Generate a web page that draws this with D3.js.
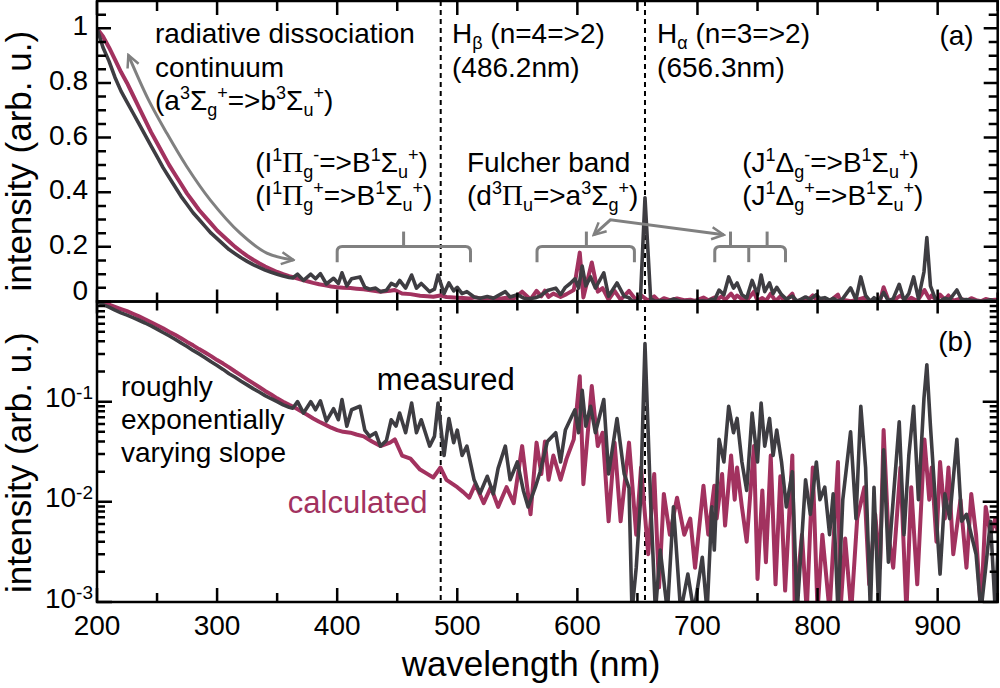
<!DOCTYPE html>
<html>
<head>
<meta charset="utf-8">
<script src="https://cdn.jsdelivr.net/npm/d3@7"></script>
<style>
  body { margin: 0; background: #fff; }
  svg { display: block; font-family: "Liberation Sans", Arial, sans-serif; }
  text { white-space: pre; }
</style>
</head>
<body>
<div id="chart"></div>
<script>
// measured spectrum (wavelength nm, intensity normalised at 200 nm)
const measuredWl = [200,205,210,215,220,225,230,235,240,245,250,255,260,265,270,275,280,285,290,295,300,305,310,315,320,325,330,335,340,345,350,355,360,
  363,367,372,378,382,386,391,397,401,404,408,412,419,423,427,432,436,441,445,449,452,457,462,466,470,477,481,484,489,493,497,500,504,508,
  514,519,525,530,534,540,544,550,555,559,565,569,575,582,586,590,594,598,601,604,607,611,615,622,626,633,639,643,645.5,649,652.5,656.3,661,
  665,669,675,680,686,692,697,704,708,712,714,718,722,726,730,733,737,741,745.5,750,753,756,760,763,766,770,774,779,783,790,794,799,802,806,
  810,813,817,821,827.5,832,836,840,844,847,851,855,859,863,868,872,876,880,884,888.6,891,894,898,902,906,910,916,920,924,928,932,936,940,944,948,950];
const measuredVal = [1.00,.93,.88,.82,.77,.73,.69,.65,.61,.57,.53,.49,.455,.42,.385,.355,.325,.30,.275,.25,.23,.21,.19,.175,.16,.147,.135,.125,.115,.107,.10,.093,.088,
  .086,.100,.077,.100,.083,.102,.064,.085,.066,.105,.057,.083,.090,.052,.045,.049,.036,.041,.066,.057,.077,.049,.097,.049,.066,.036,.045,.097,.029,.068,.039,.052,.029,.036,
  .0166,.0122,.018,.012,.0216,.036,.0166,.025,.013,.0089,.014,.020,.040,.049,.025,.052,.066,.083,.049,.130,.057,.090,.049,.105,.019,.068,.019,.0138,.0008,.0022,.010,.38,.010,
  .0008,.0033,.0008,.0089,.0008,.0019,.0008,.0028,.0008,.0089,.0033,.042,.025,.090,.049,.068,.025,.013,.077,.025,.097,.036,.068,.029,.052,.025,.0089,.020,.0008,.0166,.0075,.025,.0105,.014,
  .0047,.012,.0008,.0105,.050,.0068,.090,.022,.0008,.014,.0008,.033,.0025,.0105,.063,.0047,.029,.090,.0105,.108,.234,.057,.0105,.0019,.012,.0068,.042,.0064,.0075,.0047,.003,.0008,.0022,.0064,.0008,.003];

// calculated spectrum
const calculatedWl = [200,205,210,215,220,225,230,235,240,245,250,255,260,265,270,275,280,285,290,295,300,305,310,315,320,325,330,335,340,345,350,355,360,
  365,370,375,380,385,390,395,400,405,411,416,422,429,436,444,448,454,461,469,475,480,486,491,500,505,510,515,522,528,534,541,547,554,561,566,570,573,576,580,586,591,597,
  602,605,612,617,621,626,631,636,643,649,653,659,664,668,672,677,683,689,694,698,705,709,714,716,720.5,723,728,731,733,737,741,747,750,754,757,761,765,769,773,779,781,787,
  791,796,800,804,810,817,819,823,828,833,839,843,848,852,855,859,863,869,874,878,883,889,893,895,899,902,906,909,913,919,924,928,932,936,940,944,948,950];
const calculatedVal = [1.00,.97,.93,.885,.84,.80,.755,.71,.665,.62,.58,.54,.50,.465,.43,.395,.365,.335,.31,.285,.26,.24,.22,.20,.183,.167,.153,.14,.128,.118,.108,.10,.093,
  .087,.080,.074,.068,.063,.059,.055,.052,.050,.049,.047,.045,.040,.036,.039,.042,.029,.027,.021,.019,.0175,.022,.0166,.014,.0125,.011,.015,.0097,.014,.0089,.014,.0097,.036,.0075,.039,.019,.040,.0166,.029,.0166,.027,.042,
  .179,.015,.143,.036,.049,.0064,.039,.0064,.039,.0047,.022,.003,.019,.0014,.012,.0047,.011,.0047,.0068,.0022,.0145,.0047,.0145,.0068,.019,.0058,.029,.0105,.022,.0089,.004,.036,.0017,.013,.0025,.029,.0015,.018,.0013,.029,.0008,.0047,
  .0008,.022,.0008,.0047,.0008,.025,.0008,.0043,.0008,.0068,.014,.0015,.0075,.0022,.052,.0047,.0022,.022,.0008,.014,.0015,.042,.0105,.022,.004,.025,.0068,.022,.003,.0105,.0022,.012,.0047,.0008,.0089,.0047,.0068,.005];

const xMajor = [200,300,400,500,600,700,800,900];
const xMinor = [250,350,450,550,650,750,850,950];
const linMajor = [0,0.2,0.4,0.6,0.8,1];
const linLabels = ["0","0.2","0.4","0.6","0.8","1"];
const linMinor = [0.05,0.1,0.15,0.25,0.3,0.35,0.45,0.5,0.55,0.65,0.7,0.75,0.85,0.9,0.95,1.05];
const logMajor = [1e-3,1e-2,1e-1];
const logExp = ["-3","-2","-1"];
const logMinor = [2,3,4,5,6,7,8,9].flatMap(m => [m*1e-3, m*1e-2, m*1e-1]);
const hydrogenLines = [486.2, 656.3];

const W = 1000, H = 688;
const MEAS = "#3e3d42", CALC = "#a2325f", GRAY = "#808080";

const measured = measuredWl.map((w, i) => [w, measuredVal[i]]);
const calculated = calculatedWl.map((w, i) => [w, calculatedVal[i]]);

const svg = d3.select("#chart").append("svg").attr("width", W).attr("height", H);

const x = d3.scaleLinear().domain([200, 950]).range([97, 997.7]);
const yA = d3.scaleLinear().domain([0, 1.1]).range([301.5, 1]);
const yB = d3.scaleLog().domain([1e-3, 1]).range([602, 301.5]);
const L = x(200), R = x(950), TA = yA(1.1), MID = yA(0), BB = yB(1e-3);

const defs = svg.append("defs");
defs.append("clipPath").attr("id", "clipB").append("rect")
  .attr("x", L).attr("y", MID).attr("width", R - L).attr("height", BB - MID);
defs.append("clipPath").attr("id", "clipA").append("rect")
  .attr("x", L).attr("y", TA).attr("width", R - L).attr("height", MID - TA);
defs.append("marker").attr("id", "chev")
  .attr("viewBox", "-14 -8 16 16").attr("refX", 0).attr("refY", 0)
  .attr("markerWidth", 16).attr("markerHeight", 16)
  .attr("markerUnits", "userSpaceOnUse").attr("orient", "auto-start-reverse")
  .append("path").attr("d", "M-12,-6L0,0L-12,6")
  .attr("fill", "none").attr("stroke", GRAY).attr("stroke-width", 2.5);

// dashed H lines (both panels)
hydrogenLines.forEach(w => {
  svg.append("line")
    .attr("x1", x(w)).attr("x2", x(w)).attr("y1", TA).attr("y2", BB)
    .attr("stroke", "#000").attr("stroke-width", 2).attr("stroke-dasharray", "5,4");
});

// spectra
const lineA = d3.line().x(d => x(d[0])).y(d => yA(d[1]));
const lineB = d3.line().x(d => x(d[0])).y(d => yB(d[1]));
[[calculated, CALC, 4], [measured, MEAS, 3.6]].forEach(([data, col, sw]) => {
  svg.append("path").attr("clip-path", "url(#clipA)").attr("d", lineA(data))
    .attr("fill", "none").attr("stroke", col).attr("stroke-width", sw).attr("stroke-linejoin", "round");
  svg.append("path").attr("clip-path", "url(#clipB)").attr("d", lineB(data))
    .attr("fill", "none").attr("stroke", col).attr("stroke-width", sw).attr("stroke-linejoin", "round");
});

// tick labels
const gLab = svg.append("g").attr("font-size", 28).attr("fill", "#000");
linMajor.forEach((v, i) => {
  gLab.append("text").attr("x", L - 9).attr("y", yA(v)).attr("dy", v === 0 ? "-0.05em" : "0.25em")
    .attr("text-anchor", "end").text(linLabels[i]);
});
logMajor.forEach((v, i) => {
  const t = gLab.append("text").attr("x", L - 4).attr("y", yB(v)).attr("dy", "0.2em").attr("text-anchor", "end");
  t.append("tspan").text("10");
  t.append("tspan").attr("dy", "-0.45em").attr("font-size", 19).text(logExp[i]);
});
xMajor.forEach(v => {
  gLab.append("text").attr("x", x(v)).attr("y", BB + 33).attr("text-anchor", "middle").text(v);
});

// axis titles
svg.append("text").attr("transform", `translate(31,${(MID + TA) / 2 + 10}) rotate(-90)`)
  .attr("text-anchor", "middle").attr("font-size", 35).text("intensity (arb. u.)");
svg.append("text").attr("transform", `translate(31,${(MID + BB) / 2 + 11}) rotate(-90)`)
  .attr("text-anchor", "middle").attr("font-size", 35).text("intensity (arb. u.)");
svg.append("text").attr("x", 531).attr("y", 676)
  .attr("text-anchor", "middle").attr("font-size", 35).text("wavelength (nm)");

// rich text helper (sub / superscripts, serif capital Pi)
function rich(sel, parts, size) {
  let shift = 0;
  parts.forEach(p => {
    const [t, m] = typeof p === "string" ? [p, ""] : p;
    const target = m === "sup" ? -0.4 * size : m === "sub" ? 0.22 * size : 0;
    const ts = sel.append("tspan").attr("dy", target - shift)
      .attr("font-size", m === "sup" || m === "sub" ? Math.round(size * 0.66) : size).text(t);
    if (m === "serif") ts.attr("font-family", "'Liberation Serif', serif").attr("font-size", size + 1);
    shift = target;
  });
}
const up = t => [t, "sup"], dn = t => [t, "sub"], PI = ["Π", "serif"];

const labelsA = [
  { wl: 248.3, v: 0.948, parts: ["radiative dissociation"] },
  { wl: 248.3, v: 0.823, parts: ["continuum"] },
  { wl: 248.3, v: 0.702, parts: ["(a", up("3"), "Σ", dn("g"), up("+"), "=>b", up("3"), "Σ", dn("u"), up("+"), ")"] },
  { wl: 495.6, v: 0.948, parts: ["H", dn("β"), " (n=4=>2)"] },
  { wl: 495.6, v: 0.823, parts: ["(486.2nm)"] },
  { wl: 666.4, v: 0.948, parts: ["H", dn("α"), " (n=3=>2)"] },
  { wl: 666.4, v: 0.823, parts: ["(656.3nm)"] },
  { wl: 331.7, v: 0.475, parts: ["(I", up("1"), PI, dn("g"), up("-"), "=>B", up("1"), "Σ", dn("u"), up("+"), ")"] },
  { wl: 331.7, v: 0.354, parts: ["(I", up("1"), PI, dn("g"), up("+"), "=>B", up("1"), "Σ", dn("u"), up("+"), ")"] },
  { wl: 508.1, v: 0.475, parts: ["Fulcher band"] },
  { wl: 508.1, v: 0.354, parts: ["(d", up("3"), PI, dn("u"), "=>a", up("3"), "Σ", dn("g"), up("+"), ")"] },
  { wl: 737.2, v: 0.475, parts: ["(J", up("1"), "Δ", dn("g"), up("-"), "=>B", up("1"), "Σ", dn("u"), up("+"), ")"] },
  { wl: 737.2, v: 0.354, parts: ["(J", up("1"), "Δ", dn("g"), up("+"), "=>B", up("1"), "Σ", dn("u"), up("+"), ")"] }
];
labelsA.forEach(l => {
  const t = svg.append("text").attr("x", x(l.wl)).attr("y", yA(l.v)).attr("fill", "#000");
  rich(t, l.parts, 28);
});
svg.append("text").attr("x", x(930)).attr("y", yA(0.94)).attr("text-anchor", "end")
  .attr("font-size", 28).text("(a)");
svg.append("text").attr("x", x(929)).attr("y", yB(0.32)).attr("text-anchor", "end")
  .attr("font-size", 28).text("(b)");

const measLabel = svg.append("text").attr("x", x(433)).attr("y", yB(0.1307))
  .attr("font-size", 31).attr("fill", "#000").text("measured");
const bb = measLabel.node().getBBox();
svg.insert("rect", () => measLabel.node())
  .attr("x", bb.x - 2).attr("y", bb.y + 3).attr("width", bb.width + 4).attr("height", bb.height - 3).attr("fill", "#fff");
svg.append("text").attr("x", x(358.9)).attr("y", yB(0.00774))
  .attr("font-size", 31).attr("fill", CALC).text("calculated");
[["roughly", 0.114], ["exponentially", 0.0533], ["varying slope", 0.025]].forEach(([t, v]) => {
  svg.append("text").attr("x", x(220)).attr("y", yB(v)).attr("font-size", 28).text(t);
});

// brackets
const gBr = svg.append("g");
function bracket(w1, w2, bar, end, r = 5) {
  const x1 = x(w1), x2 = x(w2), yb = yA(bar), ye = yA(end);
  return `M${x1},${ye}V${yb + r}Q${x1},${yb} ${x1 + r},${yb}H${x2 - r}Q${x2},${yb} ${x2},${yb + r}V${ye}`;
}
const barV = 0.201, endV = 0.144, topV = 0.256;
[
  bracket(400, 511, barV, endV), `M${x(455.3)},${yA(barV)}V${yA(topV)}`,
  bracket(566.4, 647.5, barV, endV), `M${x(607.5)},${yA(barV)}V${yA(topV)}`,
  bracket(714.4, 773.3, barV, endV), `M${x(742.7)},${yA(barV)}V${yA(endV)}`,
  `M${x(727.5)},${yA(barV)}V${yA(topV)}`, `M${x(758)},${yA(barV)}V${yA(topV)}`
].forEach(d => gBr.append("path").attr("d", d).attr("fill", "none").attr("stroke", GRAY)
  .attr("stroke-width", 3).attr("stroke-linejoin", "round"));

// arrows
const arcPts = [[226.1, 0.902], [242.8, 0.739], [258, 0.617], [274.7, 0.494], [294.2, 0.372], [319.2, 0.25], [341.4, 0.177], [363.6, 0.152]];
svg.append("path")
  .attr("d", d3.line().curve(d3.curveCatmullRom).x(d => x(d[0])).y(d => yA(d[1]))(arcPts))
  .attr("fill", "none").attr("stroke", GRAY).attr("stroke-width", 3)
  .attr("marker-start", "url(#chev)").attr("marker-end", "url(#chev)");
const fulcherPts = [[613.6, 0.244], [627.5, 0.299], [721.9, 0.244]];
svg.append("path")
  .attr("d", d3.line().x(d => x(d[0])).y(d => yA(d[1]))(fulcherPts))
  .attr("fill", "none").attr("stroke", GRAY).attr("stroke-width", 3)
  .attr("marker-start", "url(#chev)").attr("marker-end", "url(#chev)");

// frames and inward ticks, drawn last so nothing covers them
const gAx = svg.append("g");
function stroke(sel) { return sel.attr("fill", "none").attr("stroke", "#000").attr("stroke-width", 2.5); }
gAx.append("rect").attr("x", L).attr("y", TA).attr("width", R - L).attr("height", MID - TA).call(stroke);
gAx.append("rect").attr("x", L).attr("y", MID).attr("width", R - L).attr("height", BB - MID).call(stroke);
function vTicks(scale, vals, x0, len) {
  gAx.append("path").attr("d", vals.map(v => `M${x0},${scale(v)}h${len}`).join("")).call(stroke);
}
function hTicks(vals, y0, len) {
  gAx.append("path").attr("d", vals.map(v => `M${x(v)},${y0}v${len}`).join("")).call(stroke);
}
vTicks(yA, linMajor, L, 14); vTicks(yA, linMinor, L, 9);
vTicks(yA, linMajor, R, -14); vTicks(yA, linMinor, R, -9);
vTicks(yB, logMajor, L, 15); vTicks(yB, logMinor, L, 8);
vTicks(yB, logMajor, R, -15); vTicks(yB, logMinor, R, -8);
hTicks(xMajor, TA, 14); hTicks(xMinor, TA, 10);
hTicks(xMajor, MID, -12); hTicks(xMinor, MID, -9);
hTicks(xMajor, MID, 12); hTicks(xMinor, MID, 9);
hTicks(xMajor, BB, -14); hTicks(xMinor, BB, -9);
</script>
</body>
</html>
